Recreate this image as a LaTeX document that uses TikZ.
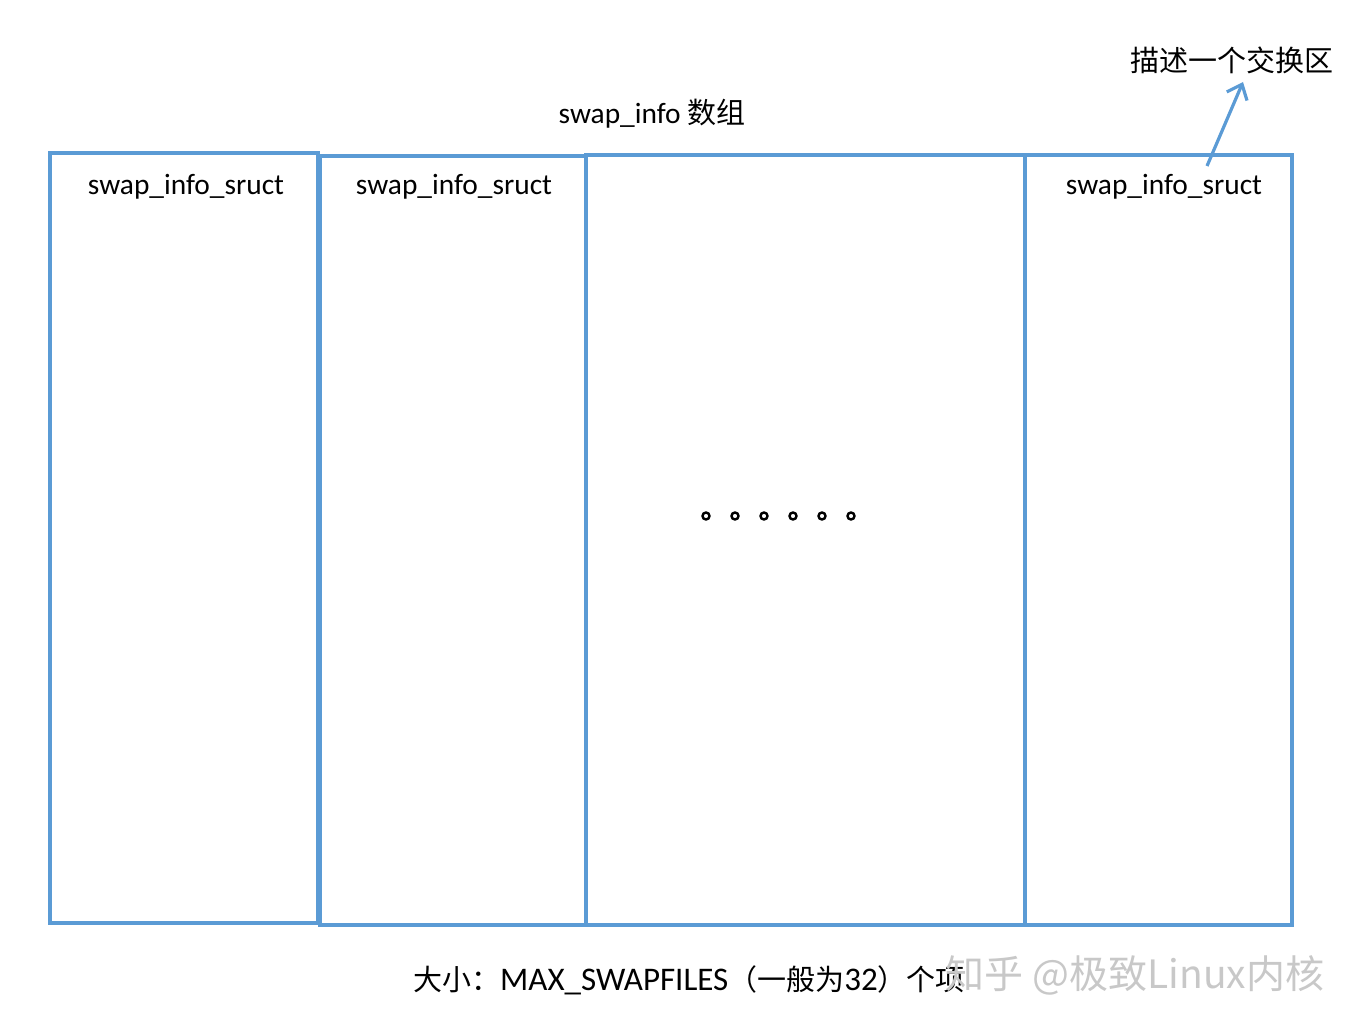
\documentclass[tikz,border=0pt]{standalone}
\usepackage{fontspec}
\setmainfont{Carlito}
\newfontfamily\cjk{Noto Sans CJK SC}
\usetikzlibrary{arrows.meta}
\definecolor{boxblue}{HTML}{5B9BD5}
\definecolor{wmgray}{HTML}{C8C8C8}
\tikzset{
  cell/.style={draw=boxblue, line width=4pt, rectangle, inner sep=0pt},
  lbl/.style={font=\fontsize{29.4}{34}\selectfont, inner sep=0pt, text=black},
  dotc/.style={circle, draw=black, line width=2.4pt, minimum size=7pt, inner sep=0pt},
  link/.style={draw=boxblue, line width=3.2pt, -{Straight Barb[length=13pt,width=22pt,line width=3.2pt]}},
}
\begin{document}
\begin{tikzpicture}[x=1pt,y=-1pt]
\useasboundingbox (0,0) rectangle (1366,1032);
% cells
\node[cell, minimum width=268pt, minimum height=770pt] (b1) at (184,538) {};
\node[cell, minimum width=266pt, minimum height=769pt] (b2) at (453,540.5) {};
\node[cell, minimum width=439pt, minimum height=770pt] (b3) at (805.5,540) {};
\node[cell, minimum width=267pt, minimum height=770pt] (b4) at (1158.5,540) {};
% labels
\node[lbl] (t) at (652,114) {swap\_info {\cjk\fontsize{29}{34}\selectfont 数组}};
\node[lbl] (l1) at (186,187) {swap\_info\_sruct};
\node[lbl] (l2) at (454,187) {swap\_info\_sruct};
\node[lbl] (l4) at (1164,187) {swap\_info\_sruct};
\node[lbl, font=\cjk\fontsize{29}{34}\selectfont] (desc) at (1232,60) {描述一个交换区};
% dots
\foreach \i/\x in {1/706,2/735,3/764,4/793,5/822,6/851}
  \node[dotc] (d\i) at (\x,516) {};
% arrow
\coordinate (as) at (1207,166);
\draw[link] (as) -- (1243,82);
% bottom
\node[lbl, font=\fontsize{33}{36}\selectfont] (bot) at (689,980) {{\cjk\fontsize{29}{34}\selectfont 大小：}MAX\_SWAPFILES{\cjk\fontsize{29}{34}\selectfont （一般为}32{\cjk\fontsize{29}{34}\selectfont ）个项}};
\node[lbl, text=wmgray, font=\cjk\fontsize{39}{42}\selectfont] (wm) at (1135,975) {知乎 @极致Linux内核};
\end{tikzpicture}
\end{document}
